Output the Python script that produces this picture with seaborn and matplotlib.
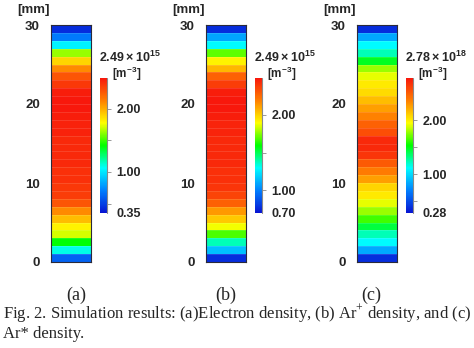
import numpy as np
import pandas as pd
import matplotlib
matplotlib.use("Agg")
import matplotlib.pyplot as plt
import seaborn as sns
from matplotlib.colors import LinearSegmentedColormap

sns.set_style("white")
plt.rcParams["font.family"] = ["Liberation Sans", "DejaVu Sans"]
plt.rcParams["mathtext.fontset"] = "custom"
plt.rcParams["mathtext.rm"] = "Liberation Serif"
plt.rcParams["mathtext.bf"] = "Liberation Sans:bold"
plt.rcParams["mathtext.sf"] = "Liberation Sans"

# Densities in 1 mm cells, listed from 0 mm (bottom) up to 30 mm (top)
electron_density = [0.61, 1.10, 1.42, 1.72, 1.81, 1.96, 2.10, 2.28, 2.36, 2.38,
                    2.40, 2.40, 2.43, 2.43, 2.43, 2.43, 2.45, 2.45, 2.47, 2.49,
                    2.49, 2.47, 2.38, 2.28, 2.10, 1.89, 1.63, 1.03, 0.69, 0.44]
ar_ion_density = [0.77, 1.15, 1.38, 1.68, 1.88, 2.02, 2.13, 2.28, 2.36, 2.40,
                  2.42, 2.42, 2.44, 2.44, 2.44, 2.44, 2.45, 2.45, 2.47, 2.49,
                  2.49, 2.47, 2.38, 2.28, 2.06, 1.92, 1.70, 1.29, 1.09, 0.77]
ar_meta_density = [0.38, 0.83, 1.11, 1.23, 1.43, 1.63, 1.78, 1.91, 2.01, 2.08,
                   2.26, 2.38, 2.51, 2.66, 2.71, 2.71, 2.56, 2.48, 2.36, 2.26,
                   2.16, 2.06, 2.01, 1.91, 1.78, 1.48, 1.23, 1.11, 0.83, 0.38]

panel_tags = ["(a)", "(b)", "(c)"]
range_min = [0.35, 0.70, 0.28]
range_max = [2.49, 2.49, 2.78]
exponents = ["15", "15", "18"]
height_ticks = [0, 10, 20, 30]

caption_line1 = "Fig. 2. Simulation results: (a)Electron density, (b) Ar$^{+}$ density, and (c)"
caption_line2 = "Ar* density."

rainbow = LinearSegmentedColormap.from_list(
    "rainbow_fem",
    ["#0714d2", "#0080ff", "#00ffff", "#00ff00", "#ffff00", "#ff8000", "#f8180c"])

W, H = 474, 348
fig = plt.figure(figsize=(W / 100, H / 100), dpi=100)


def fbox(x0, y0, x1, y1):
    """Pixel box (top-left origin) -> figure fraction rect."""
    return [x0 / W, 1 - y1 / H, (x1 - x0) / W, (y1 - y0) / H]


bar_left = [51, 206, 357]
cbar_left = [100, 255, 406]
tag_x = [76, 226, 371]
series = [electron_density, ar_ion_density, ar_meta_density]

for i in range(3):
    ax = fig.add_axes(fbox(bar_left[i], 25, bar_left[i] + 40, 262))
    cax = fig.add_axes(fbox(cbar_left[i], 78, cbar_left[i] + 7, 213))
    vals = np.asarray(series[i])
    frame = pd.DataFrame({"n": vals[::-1]})
    sns.heatmap(frame, ax=ax, cmap=rainbow, vmin=range_min[i], vmax=range_max[i],
                cbar_ax=cax, xticklabels=False, yticklabels=False,
                linewidths=0.4, linecolor=(1, 1, 1, 0.12))
    n = len(vals)
    ax.set_yticks([n - t for t in height_ticks])
    ax.set_yticklabels([str(t) for t in height_ticks], rotation=0,
                       fontsize=9.5, fontweight="bold")
    ax.tick_params(axis="y", length=0, pad=8)
    ax.set_ylabel("")
    for sp in ax.spines.values():
        sp.set_visible(True)
        sp.set_color("#2a2a3a")
        sp.set_linewidth(0.8)

    cbar = ax.collections[0].colorbar
    cbar.outline.set_visible(False)
    cax.plot([1, 1], [0, 1], transform=cax.transAxes, color="#8a8a8a",
             lw=0.8, clip_on=False)
    major = [range_min[i], 1.0, 2.0]
    cbar.set_ticks(major)
    cbar.set_ticklabels([f"{v:.2f}" for v in major])
    minor = [v for v in (0.5, 1.5) if range_min[i] < v < range_max[i]]
    cax.yaxis.set_ticks(minor, minor=True)
    cax.tick_params(which="both", length=3, width=0.6, color="#8a8a8a",
                    labelsize=9, pad=4)
    for lab in cax.get_yticklabels():
        lab.set_fontweight("bold")
    cax.yaxis.get_major_ticks()[0].tick2line.set_visible(False)

    fig.text(cbar_left[i] - 1, H - 57,
             r"$\mathbf{%.2f\times10^{%s}}$" % (range_max[i], exponents[i]),
             transform=None, fontsize=9, ha="left", va="center")
    fig.text(cbar_left[i] + 27, H - 74, r"[m$\mathbf{^{-3}}$]",
             transform=None, fontsize=8.5, fontweight="bold",
             ha="center", va="center")
    fig.text(bar_left[i] - 34, H - 10, "[mm]", transform=None, fontsize=9.5,
             fontweight="bold", ha="left", va="center")
    fig.text(tag_x[i], H - 295, panel_tags[i], transform=None,
             family="Liberation Serif", fontsize=13, ha="center", va="center")

fig.text(3, H - 319, caption_line1, transform=None, family="Liberation Serif",
         fontsize=12, ha="left", va="baseline")
fig.text(3, H - 338, caption_line2, transform=None, family="Liberation Serif",
         fontsize=12, ha="left", va="baseline")

fig.savefig("out.png", dpi=100)
